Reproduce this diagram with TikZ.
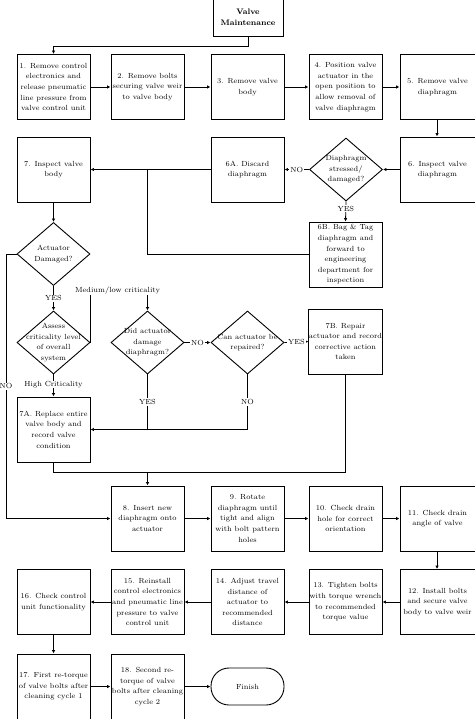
\documentclass[tikz,border=0pt]{standalone}
\usetikzlibrary{shapes.geometric,arrows.meta}
\begin{document}
\begin{tikzpicture}[x=1pt,y=-1pt,
  font=\fontsize{7.4}{10.6}\selectfont,
  every node/.style={inner sep=0pt},
  stepbox/.style={draw,line width=0.9pt,minimum width=73pt,minimum height=65pt,align=center},
  dia/.style={draw,line width=0.9pt,shape=diamond,minimum width=73pt,minimum height=63pt},
  dtext/.style={align=center},
  lbl/.style={fill=white,inner sep=1pt},
  conn/.style={line width=0.8pt},
  arr/.style={line width=0.8pt,-{Latex[length=3.5pt,width=3.5pt]}}
]
\useasboundingbox (0,0) rectangle (474,719);
% top
\node[draw,line width=0.9pt,minimum width=70pt,minimum height=37pt,align=center,font=\fontsize{8}{11}\selectfont\bfseries] (vm) at (248,17.5) {Valve\\Maintenance};
% row 1
\node[stepbox] (s1) at (53.5,87) {1. Remove control\\electronics and\\release pneumatic\\line pressure from\\valve control unit};
\node[stepbox] (s2) at (147.5,87) {2. Remove bolts\\securing valve weir\\to valve body};
\node[stepbox] (s3) at (247.5,87) {3. Remove valve\\body};
\node[stepbox] (s4) at (345.5,87) {4. Position valve\\actuator in the\\open position to\\allow removal of\\valve diaphragm};
\node[stepbox,minimum width=75pt] (s5) at (437.5,87) {5. Remove valve\\diaphragm};
% row 2
\node[stepbox] (s7) at (53.5,169.5) {7. Inspect valve\\body};
\node[stepbox] (s6a) at (247.5,169.5) {6A. Discard\\diaphragm};
\node[dia] (d1) at (346,169.5) {};
\node[dtext] (d1t) at (d1) {Diaphragm\\stressed/\\damaged?};
\node[stepbox,minimum width=75pt] (s6) at (437.5,169.5) {6. Inspect valve\\diaphragm};
\node[stepbox] (s6b) at (345.5,254.5) {6B. Bag \& Tag\\diaphragm and\\forward to\\engineering\\department for\\inspection};
% diamonds
\node[dia] (d2) at (53.5,254) {};
\node[dtext] (d2t) at (d2) {Actuator\\Damaged?};
\node[dia] (d3) at (53.5,342.5) {};
\node[dtext] (d3t) at (d3) {Assess\\criticality level\\of overall\\system};
\node[dia] (d4) at (147.5,342.5) {};
\node[dtext] (d4t) at (d4) {Did actuator\\damage\\diaphragm?};
\node[dia] (d5) at (247.5,342.5) {};
\node[dtext] (d5t) at (d5) {Can actuator be\\repaired?};
\node[stepbox] (s7b) at (345.5,341.5) {7B. Repair\\actuator and record\\corrective action\\taken};
\node[stepbox] (s7a) at (53.5,429.5) {7A. Replace entire\\valve body and\\record valve\\condition};
\node (lmed) at (117.5,291) {Medium/low criticality};
\node (lhigh) at (53.5,384.5) {High Criticality};
% row 3
\node[stepbox] (s8) at (147.5,518.5) {8. Insert new\\diaphragm onto\\actuator};
\node[stepbox] (s9) at (247.5,518.5) {9. Rotate\\diaphragm until\\tight and align\\with bolt pattern\\holes};
\node[stepbox] (s10) at (345.5,518.5) {10. Check drain\\hole for correct\\orientation};
\node[stepbox,minimum width=75pt] (s11) at (437.5,518.5) {11. Check drain\\angle of valve};
% row 4
\node[stepbox] (s16) at (53.5,602) {16. Check control\\unit functionality};
\node[stepbox] (s15) at (147.5,602) {15. Reinstall\\control electronics\\and pneumatic line\\pressure to valve\\control unit};
\node[stepbox] (s14) at (247.5,602) {14. Adjust travel\\distance of\\actuator to\\recommended\\distance};
\node[stepbox] (s13) at (345.5,602) {13. Tighten bolts\\with torque wrench\\to recommended\\torque value};
\node[stepbox,minimum width=75pt] (s12) at (437.5,602) {12. Install bolts\\and secure valve\\body to valve weir};
% row 5
\node[stepbox] (s17) at (53.5,686.5) {17. First re-torque\\of valve bolts after\\cleaning cycle 1};
\node[stepbox] (s18) at (147.5,686.5) {18. Second re-\\torque of valve\\bolts after cleaning\\cycle 2};
\node[draw,line width=0.9pt,minimum width=73pt,minimum height=37pt,rounded corners=18pt] (fin) at (247.5,686.5) {Finish};
% coordinates
\coordinate (j1) at (147.5,169.5);
\coordinate (j2) at (147.5,429.5);
\coordinate (j3) at (147.5,472);
% connectors
\draw[arr] (vm.south) -- (248,46) -| (s1.north);
\draw[arr] (s1) -- (s2);
\draw[arr] (s2) -- (s3);
\draw[arr] (s3) -- (s4);
\draw[arr] (s4) -- (s5);
\draw[arr] (s5.south -| 437,0) -- (s6.north -| 437,0);
\draw[arr] (s6) -- (d1.east);
\draw[arr] (d1.west) -- node[lbl] (lno1) {NO} (s6a.east);
\draw[arr] (s6a.west) -- (s7.east);
\draw[conn] (s6b.west) -| (j1);
\draw[arr] (d1.south) -- node[lbl,pos=0.35] (lyes1) {YES} (s6b.north);
\draw[arr] (s7.south) -- (d2.north);
\draw[arr] (d2.west) -- (6,254) -- node[lbl,pos=0.5] (lno2) {NO} (6,518.5) -- (s8.west);
\draw[arr] (d2.south) -- node[lbl] (lyes2) {YES} (d3.north);
\draw[conn] (d3.east) -- (d3.east |- lmed.south);
\draw[arr] (lmed.south -| d4.north) -- (d4.north);
\draw[conn] (d3.south) -- (lhigh.north);
\draw[arr] (lhigh.south) -- (s7a.north);
\draw[arr] (d4.east) -- node[lbl] (lno3) {NO} (d5.west);
\draw[arr] (d5.east) -- node[lbl] (lyes3) {YES} (s7b.west);
\draw[arr] (d4.south) -- node[lbl,pos=0.5] (lyes4) {YES} (j2) -- (s7a.east);
\draw[conn] (d5.south) -- node[lbl,pos=0.5] (lno4) {NO} (d5.south |- j2) -- (j2);
\draw[conn] (s7b.south) -- (s7b.south |- j3) -- (s7a.south |- j3) -- (s7a.south);
\draw[arr] (j3) -- (s8.north);
\draw[arr] (s8) -- (s9);
\draw[arr] (s9) -- (s10);
\draw[arr] (s10) -- (s11.west);
\draw[arr] (s11.south -| 437,0) -- (s12.north -| 437,0);
\draw[arr] (s12.west) -- (s13);
\draw[arr] (s13) -- (s14);
\draw[arr] (s14) -- (s15);
\draw[arr] (s15) -- (s16);
\draw[arr] (s16) -- (s17);
\draw[arr] (s17) -- (s18);
\draw[arr] (s18) -- (fin);
\end{tikzpicture}
\end{document}
